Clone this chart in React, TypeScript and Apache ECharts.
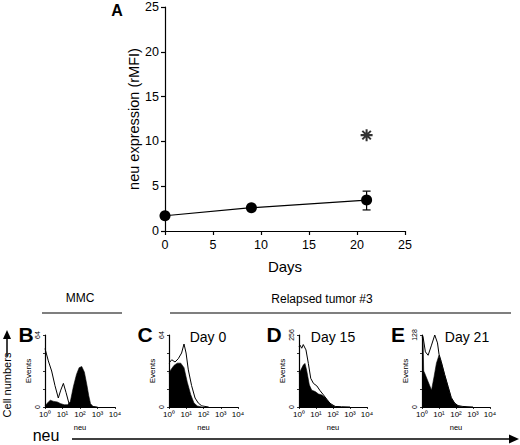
import React, { useEffect, useRef } from "react";
import * as echarts from "echarts";

// Panel A data
const daysX = [0, 9, 21];
const neuMean = [1.7, 2.6, 3.45];
const errorBars = [[21, 2.35, 4.45]];
const significance = [[21, 10.7]];
const mainTicks = [0, 5, 10, 15, 20, 25];

// Histogram tick labels (log decades)
const decadeLabels = ["10⁰", "10¹", "10²", "10³", "10⁴"];

// Histograms: [log10(neu), events]
const bOpen = [[0, 52], [0.19, 41], [0.38, 32], [0.57, 19], [0.76, 8], [0.9, 15], [1.05, 21], [1.2, 13], [1.39, 2], [1.55, 0.5], [2.5, 0.5], [3, 0]];
const bFilled = [[0, 1], [0.1, 3], [0.3, 6], [0.5, 5], [0.7, 4.5], [0.9, 3], [1.1, 2], [1.3, 2], [1.45, 5], [1.62, 18], [1.8, 29], [1.95, 35], [2.1, 36], [2.25, 31], [2.4, 19], [2.5, 10], [2.6, 3], [2.75, 0.5], [2.9, 0]];
const cOpen = [[0, 39], [0.16, 42], [0.35, 40], [0.54, 43], [0.73, 48], [0.87, 56], [0.99, 48], [1.12, 33], [1.31, 19], [1.51, 8], [1.7, 3.5], [1.9, 1], [2.3, 0]];
const cFilled = [[0, 30], [0.1, 33], [0.29, 37], [0.48, 39], [0.68, 39], [0.87, 35], [1.06, 22], [1.26, 11], [1.45, 3.5], [1.64, 1], [1.9, 0]];
const dOpen = [[0, 215], [0.06, 220], [0.16, 209], [0.25, 222], [0.41, 203], [0.55, 155], [0.69, 102], [0.85, 84], [1.05, 75], [1.24, 58], [1.44, 43], [1.64, 27], [1.83, 13], [2.13, 2], [2.5, 1], [3, 0]];
const dFilled = [[0, 120], [0.1, 131], [0.25, 149], [0.35, 155], [0.45, 131], [0.61, 78], [0.75, 60], [0.95, 55], [1.15, 46], [1.34, 43], [1.54, 34], [1.74, 19], [1.93, 7], [2.13, 1], [2.4, 0]];
const eOpen = [[0, 128], [0.06, 125], [0.2, 98], [0.36, 92], [0.56, 110], [0.75, 128], [0.91, 114], [1.0, 94], [1.13, 81], [1.33, 58], [1.53, 37], [1.72, 17], [1.92, 7], [2.12, 2.5], [2.4, 1], [3, 0]];
const eFilled = [[0, 125], [0.06, 120], [0.1, 64], [0.16, 60], [0.36, 45], [0.56, 30], [0.71, 54], [0.85, 78], [1.0, 92], [1.13, 80], [1.33, 57], [1.53, 36], [1.72, 16], [1.92, 6.5], [2.12, 2], [2.32, 0.5], [2.6, 0]];

const histMax = [64, 64, 256, 128];
const histOpen = [bOpen, cOpen, dOpen, eOpen];
const histFilled = [bFilled, cFilled, dFilled, eFilled];
const histLetters = ["B", "C", "D", "E"];
const histTitles = ["", "Day 0", "Day 15", "Day 21"];

const FONT = "Liberation Sans, Arial, Helvetica, sans-serif";

export default function App() {
  const ref = useRef<HTMLDivElement>(null);

  useEffect(() => {
    document.body.style.margin = "0";
    if (!ref.current) return;
    const chart = echarts.init(ref.current, undefined, { renderer: "svg" });

    const histLefts = [45, 169, 299, 422];
    const histWidths = [70, 69, 68, 68];

    const grids: any[] = [
      { left: 165, top: 7, width: 240, height: 224, outerBoundsMode: "none" },
    ];
    const xAxes: any[] = [
      {
        gridIndex: 0,
        type: "value",
        min: 0,
        max: 25,
        interval: 5,
        name: "Days",
        nameLocation: "middle",
        nameGap: 28,
        nameTextStyle: { color: "#000", fontSize: 15, fontFamily: FONT },
        axisLine: { lineStyle: { color: "#000", width: 1.2 } },
        axisTick: { lineStyle: { color: "#000", width: 1.2 }, length: 4 },
        axisLabel: { color: "#000", fontSize: 12.5, fontFamily: FONT, margin: 7 },
        splitLine: { show: false },
      },
    ];
    const yAxes: any[] = [
      {
        gridIndex: 0,
        type: "value",
        min: 0,
        max: 25,
        interval: 5,
        name: "neu expression (rMFI)",
        nameLocation: "middle",
        nameGap: 24,
        nameTextStyle: { color: "#000", fontSize: 14.5, fontFamily: FONT },
        axisLine: { show: true, lineStyle: { color: "#000", width: 1.2 } },
        axisTick: { show: true, lineStyle: { color: "#000", width: 1.2 }, length: 4 },
        axisLabel: {
          color: "#000",
          fontSize: 12.5,
          fontFamily: FONT,
          margin: 6,
          formatter: (v: number) => (mainTicks.includes(v) ? String(v) : ""),
        },
        splitLine: { show: false },
      },
    ];

    const series: any[] = [
      {
        type: "line",
        xAxisIndex: 0,
        yAxisIndex: 0,
        data: daysX.map((d, i) => [d, neuMean[i]]),
        symbol: "circle",
        symbolSize: 11,
        itemStyle: { color: "#000" },
        lineStyle: { color: "#000", width: 1.2 },
        z: 3,
      },
      {
        type: "custom",
        xAxisIndex: 0,
        yAxisIndex: 0,
        data: errorBars,
        encode: { x: 0, y: [1, 2] },
        renderItem: (params: any, api: any) => {
          const x = api.value(0);
          const p1 = api.coord([x, api.value(1)]);
          const p2 = api.coord([x, api.value(2)]);
          const w = 4;
          const st = { stroke: "#000", lineWidth: 1.2 };
          return {
            type: "group",
            children: [
              { type: "line", shape: { x1: p1[0], y1: p1[1], x2: p2[0], y2: p2[1] }, style: st },
              { type: "line", shape: { x1: p1[0] - w, y1: p1[1], x2: p1[0] + w, y2: p1[1] }, style: st },
              { type: "line", shape: { x1: p2[0] - w, y1: p2[1], x2: p2[0] + w, y2: p2[1] }, style: st },
            ],
          };
        },
        z: 2,
      },
      {
        type: "scatter",
        xAxisIndex: 0,
        yAxisIndex: 0,
        data: significance,
        symbol:
          "path://M-1.7,-10L1.7,-10L1.7,10L-1.7,10Z M-10,-1.7L10,-1.7L10,1.7L-10,1.7Z M-8.3,-5.9L-5.9,-8.3L8.3,5.9L5.9,8.3Z M5.9,-8.3L8.3,-5.9L-5.9,8.3L-8.3,5.9Z",
        symbolSize: 12,
        itemStyle: { color: "#000" },
      },
    ];

    for (let i = 0; i < 4; i++) {
      const gi = i + 1;
      const max = histMax[i];
      grids.push({ left: histLefts[i], top: 335, width: histWidths[i], height: 72, outerBoundsMode: "none" });
      xAxes.push({
        gridIndex: gi,
        type: "value",
        min: 0,
        max: 4,
        interval: 1,
        name: "neu",
        nameLocation: "middle",
        nameGap: 16,
        nameTextStyle: { color: "#000", fontSize: 7.5, fontFamily: FONT },
        axisLine: { lineStyle: { color: "#000", width: 1 } },
        axisTick: { lineStyle: { color: "#000", width: 0.8 }, length: 2 },
        axisLabel: {
          color: "#000",
          fontSize: 8,
          fontFamily: FONT,
          margin: 3,
          formatter: (v: number) => decadeLabels[Math.round(v)] ?? "",
        },
        splitLine: { show: false },
      });
      yAxes.push({
        gridIndex: gi,
        type: "value",
        min: 0,
        max: max,
        interval: max / 4,
        name: "Events",
        nameLocation: "middle",
        nameGap: 13,
        nameTextStyle: { color: "#000", fontSize: 8, fontFamily: FONT },
        axisLine: { show: true, lineStyle: { color: "#000", width: 1.2 } },
        axisTick: { show: true, lineStyle: { color: "#000", width: 0.8 }, length: 2 },
        axisLabel: {
          color: "#000",
          fontSize: 7,
          fontFamily: FONT,
          rotate: 90,
          margin: 4,
          formatter: (v: number) => (v === 0 || v === max ? String(v) : ""),
        },
        splitLine: { show: false },
      });
      series.push({
        type: "line",
        xAxisIndex: gi,
        yAxisIndex: gi,
        data: histFilled[i],
        symbol: "none",
        lineStyle: { color: "#000", width: 0.6 },
        areaStyle: { color: "#000", opacity: 1 },
        z: 2,
      });
      series.push({
        type: "line",
        xAxisIndex: gi,
        yAxisIndex: gi,
        data: histOpen[i],
        symbol: "none",
        lineStyle: { color: "#000", width: 1 },
        z: 3,
      });
    }

    const letterPos = [
      [26, 334],
      [145, 334],
      [274, 334],
      [398, 334],
    ];
    const titlePos = [
      [0, 0],
      [208, 337],
      [333, 337],
      [467, 337],
    ];

    const graphics: any[] = [
      {
        type: "text",
        x: 117,
        y: 10,
        style: { text: "A", font: `bold 16px ${FONT}`, fill: "#000", align: "center", verticalAlign: "middle" },
      },
      {
        type: "text",
        x: 80,
        y: 298,
        style: { text: "MMC", font: `12px ${FONT}`, fill: "#000", align: "center", verticalAlign: "middle" },
      },
      { type: "line", shape: { x1: 42, y1: 313, x2: 122, y2: 313 }, style: { stroke: "#000", lineWidth: 1.2 } },
      {
        type: "text",
        x: 322,
        y: 299,
        style: { text: "Relapsed tumor #3", font: `12px ${FONT}`, fill: "#000", align: "center", verticalAlign: "middle" },
      },
      { type: "line", shape: { x1: 170, y1: 313, x2: 511, y2: 313 }, style: { stroke: "#000", lineWidth: 1.2 } },
      {
        type: "text",
        x: 7,
        y: 385,
        rotation: Math.PI / 2,
        style: { text: "Cell numbers", font: `11px ${FONT}`, fill: "#000", align: "center", verticalAlign: "middle" },
      },
      { type: "line", shape: { x1: 7, y1: 356, x2: 7, y2: 338 }, style: { stroke: "#000", lineWidth: 1.5 } },
      { type: "polygon", shape: { points: [[3, 339], [7, 330], [11, 339]] }, style: { fill: "#000" } },
      {
        type: "text",
        x: 46,
        y: 435,
        style: { text: "neu", font: `16px ${FONT}`, fill: "#000", align: "center", verticalAlign: "middle" },
      },
      { type: "line", shape: { x1: 72, y1: 439, x2: 510, y2: 439 }, style: { stroke: "#000", lineWidth: 1.5 } },
      { type: "polygon", shape: { points: [[509, 434.5], [519, 439], [509, 443.5]] }, style: { fill: "#000" } },
    ];
    for (let i = 0; i < 4; i++) {
      graphics.push({
        type: "text",
        x: letterPos[i][0],
        y: letterPos[i][1],
        style: { text: histLetters[i], font: `bold 21px ${FONT}`, fill: "#000", align: "center", verticalAlign: "middle" },
      });
      if (histTitles[i]) {
        graphics.push({
          type: "text",
          x: titlePos[i][0],
          y: titlePos[i][1],
          style: { text: histTitles[i], font: `14px ${FONT}`, fill: "#000", align: "center", verticalAlign: "middle" },
        });
      }
    }

    chart.setOption({
      animation: false,
      backgroundColor: "#fff",
      grid: grids,
      xAxis: xAxes,
      yAxis: yAxes,
      series,
      graphic: graphics,
    });

    return () => chart.dispose();
  }, []);

  return <div ref={ref} style={{ width: 520, height: 445 }} />;
}
